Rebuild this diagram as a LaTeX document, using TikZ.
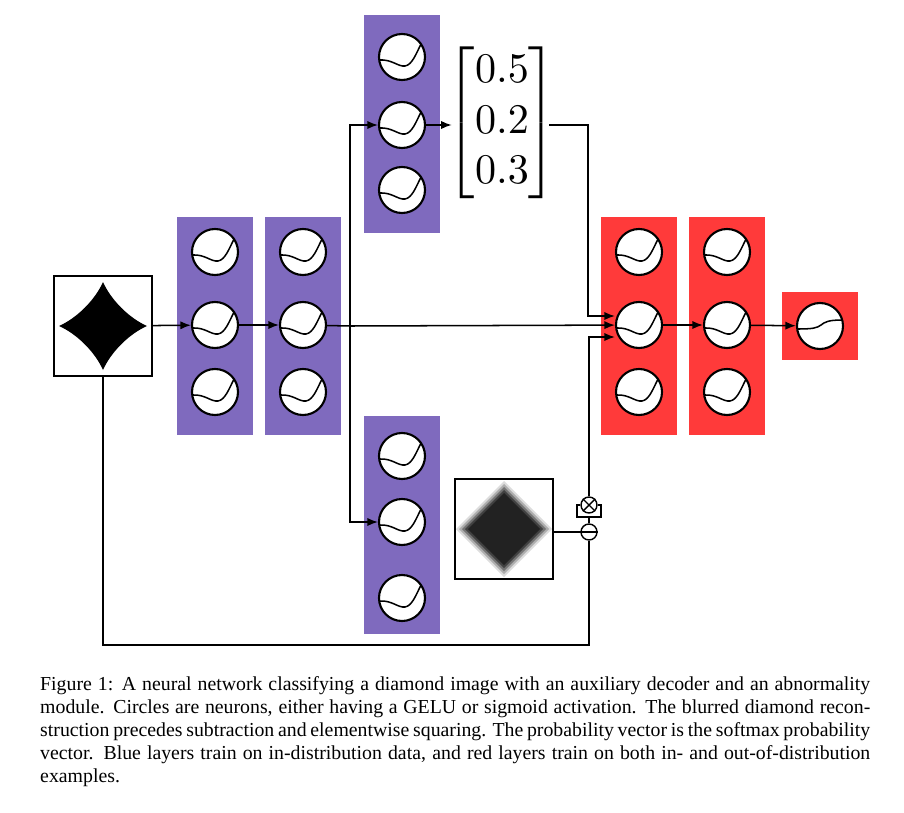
\documentclass[tikz,border=0pt]{standalone}
\usepackage{fontspec}
\setmainfont{Liberation Serif}
\usetikzlibrary{arrows.meta,positioning}

\definecolor{inblue}{RGB}{127,106,190}
\definecolor{outred}{RGB}{255,58,58}

\tikzset{
    layer/.style={rectangle,inner sep=0pt,minimum width=2.28cm,minimum height=6.54cm},
    inlayer/.style={layer,fill=inblue},
    outlayer/.style={layer,fill=outred},
    neuron/.style={circle,draw,line width=1.8pt,fill=white,minimum size=1.38cm,inner sep=0pt},
    imgbox/.style={rectangle,draw,line width=1.2pt,fill=white,minimum width=2.94cm,minimum height=3cm,inner sep=0pt},
    op/.style={circle,draw,line width=1.2pt,fill=white,minimum size=0.48cm,inner sep=0pt},
    conn/.style={line width=1.3pt,-{Latex[length=9pt,width=7pt]}},
    wire/.style={line width=1.3pt},
}

% activation glyphs drawn inside a neuron node
\newcommand{\geluin}[1]{%
    \draw[line width=1.3pt] ([shift={(-23,3)}]#1.center) .. controls ([shift={(-10,2)}]#1.center)
        and ([shift={(-4,10)}]#1.center) .. ([shift={(3,9)}]#1.center)
        .. controls ([shift={(10,8)}]#1.center) and ([shift={(14,-3)}]#1.center)
        .. ([shift={(19,-13)}]#1.center);}
\newcommand{\sigmin}[1]{%
    \draw[line width=1.3pt] ([shift={(-23,3)}]#1.center) .. controls ([shift={(-7,3)}]#1.center)
        and ([shift={(-3,2)}]#1.center) .. ([shift={(1,-1)}]#1.center)
        .. controls ([shift={(5,-4)}]#1.center) and ([shift={(8,-6)}]#1.center)
        .. ([shift={(22.5,-6)}]#1.center);}

\begin{document}
\begin{tikzpicture}[x=0.03cm,y=-0.03cm]
    \useasboundingbox (0,0) rectangle (904,812);

    % Input image
    \node[imgbox] (input) at (103,326) {};
    \fill (input.center) ++(-44,0) .. controls ++(18,-8) and ++(-8,18) .. ++(44,-44)
        .. controls ++(8,18) and ++(-18,-8) .. ++(44,44)
        .. controls ++(-18,8) and ++(8,-18) .. ++(-44,44)
        .. controls ++(-8,-18) and ++(18,8) .. cycle;

    % Shared layers
    \node[inlayer] (h1) at (215,326) {};
    \node[inlayer] (h2) at (303,326) {};
    \foreach \l/\x in {h1/215,h2/303} {
        \foreach \i/\y in {1/252,2/325,3/392} {
            \node[neuron] (\l n\i) at (\x,\y) {};
            \geluin{\l n\i}
        }
    }

    % Classifier head
    \node[inlayer] (cls) at (402,124) {};
    \foreach \i/\y in {1/57,2/125,3/190} {
        \node[neuron] (clsn\i) at (402,\y) {};
        \geluin{clsn\i}
    }
    \node[inner sep=0pt] (prob) at (502,123)
        {\scalebox{3.6}{$\left[\begin{array}{@{}c@{}}0.5\\0.2\\0.3\end{array}\right]$}};

    % Decoder
    \node[inlayer] (dec) at (402,525) {};
    \foreach \i/\y in {1/456,2/522,3/598} {
        \node[neuron] (decn\i) at (402,\y) {};
        \geluin{decn\i}
    }
    \node[imgbox] (recon) at (504,529) {};
    \foreach \s/\o in {48/0.15,45/0.25,42/0.4,39/0.6,36/0.9} {
        \fill[black!88,opacity=\o] (recon.center) ++(-\s,0) -- ++(\s,-\s) -- ++(\s,\s) -- ++(-\s,\s) -- cycle;
    }

    % Abnormality operators
    \node[op] (sq) at (589,505) {};
    \draw[line width=1.2pt] (sq.north west) -- (sq.south east) (sq.north east) -- (sq.south west);
    \draw[line width=1.2pt] (sq.west) -- (577,505) -- (577,517) -- (601,517) -- (601,505) -- (sq.east);
    \node[op] (sub) at (589,532) {};
    \draw[line width=1.2pt] (sub.west) -- (sub.east);
    \draw[wire] (sub) -- (589,517);

    % Abnormality module
    \node[outlayer] (r1) at (639,326) {};
    \node[outlayer] (r2) at (727,326) {};
    \foreach \l/\x in {r1/639,r2/727} {
        \foreach \i/\y in {1/252,2/325,3/392} {
            \node[neuron] (\l n\i) at (\x,\y) {};
            \geluin{\l n\i}
        }
    }
    \node[outlayer,minimum width=2.28cm,minimum height=2.04cm] (r3) at (820,326) {};
    \node[neuron] (outn) at (820,326) {};
    \sigmin{outn}

    % Connections
    \draw[conn] (input) -- (h1n2);
    \draw[conn] (h1n2) -- (h2n2);
    \coordinate (split) at (350,326);
    \draw[wire] (h2n2) -- (split);
    \draw[conn] (split) |- (clsn2);
    \draw[conn] (split) |- (decn2);
    \draw[conn] (clsn2) -- ([shift={(5,0)}]prob.west |- clsn2);
    \draw[conn] (split) -- (r1n2);
    \draw[conn] ([shift={(-8,0)}]prob.east |- clsn2) -| (588,316) -- (r1n2.west |- 0,316);
    \draw[conn] (sq) |- (r1n2.west |- 0,337);
    \draw[wire] (recon.east |- sub) -- (sub);
    \draw[wire] (input) |- (589,645) -- (sub);
    \draw[conn] (r1n2) -- (r2n2);
    \draw[conn] (r2n2) -- (outn);

    % Caption
    \node[anchor=north west,text width=24.9cm,align=justify,inner sep=0pt,
          font=\fontsize{16.9}{19.8}\selectfont] (caption) at (40,676)
        {Figure 1: A neural network classifying a diamond image with an auxiliary decoder and an abnormality module. Circles are neurons, either having a GELU or sigmoid activation. The blurred diamond reconstruction precedes subtraction and elementwise squaring. The probability vector is the softmax probability vector. Blue layers train on in-distribution data, and red layers train on both in- and out-of-distribution examples.};
\end{tikzpicture}
\end{document}
